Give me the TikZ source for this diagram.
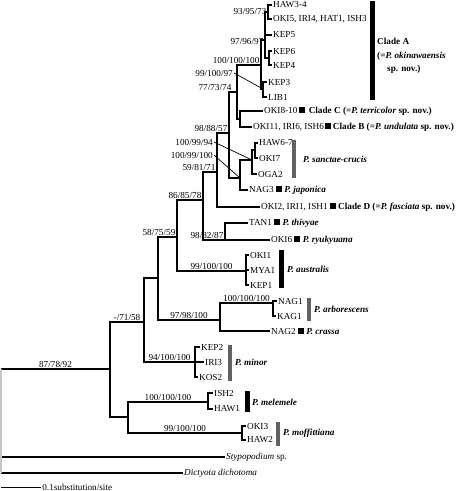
\documentclass[tikz,border=0pt]{standalone}
\usepackage{fontspec}
\setmainfont{Liberation Serif}
\definecolor{bargray}{gray}{0.38}
\newcommand{\sqbox}{\rule[0.05em]{6pt}{6pt}}
\newcommand{\spn}[1]{\textbf{\textit{#1}}}
\begin{document}
\begin{tikzpicture}[
    x=1pt, y=-1pt,
    every node/.style={font=\fontsize{9.2}{13.5}\selectfont},
    branch/.style={line width=1.3pt},
    leaf/.style={anchor=west, inner xsep=1pt, inner ysep=0pt},
    supp/.style={above, inner sep=1pt},
    suppl/.style={anchor=south east, inner sep=1pt},
    blackbar/.style={line width=5pt},
    graybar/.style={line width=4pt, bargray},
    pointer/.style={line width=0.7pt}
]
\useasboundingbox (0,0) rectangle (474,491);

% Inner nodes (x of node, y where its branch comes in)
\coordinate (base) at (1,369);
\coordinate (n87) at (110,369);
\coordinate (n71) at (144,322);
\coordinate (n0) at (158,278);
\coordinate (n58) at (177,237);
\coordinate (n86) at (203,200);
\coordinate (n59) at (217,172);
\coordinate (n98) at (229,133);
\coordinate (n77) at (237,92);
\coordinate (nA) at (261,65);
\coordinate (nA1) at (265,40);
\coordinate (nA2) at (268,12);
\coordinate (nA3) at (269,58);
\coordinate (nA4) at (263,89);
\coordinate (nCB) at (240,119);
\coordinate (nJ) at (240,178);
\coordinate (nS) at (252,160);
\coordinate (nS1) at (255,150);
\coordinate (nT) at (225,240);
\coordinate (nAu) at (246,271);
\coordinate (nAr) at (220,320);
\coordinate (nAr1) at (273,303);
\coordinate (nMi) at (195,362);
\coordinate (nMM) at (128,417);
\coordinate (nMe) at (208,402);
\coordinate (nMo) at (242,433);

% Leaves
\node[leaf] (haw34) at (272,5) {HAW3-4};
\node[leaf] (oki5) at (272,19) {OKI5, IRI4, HAT1, ISH3};
\node[leaf] (kep5) at (272,35) {KEP5};
\node[leaf] (kep6) at (272,51) {KEP6};
\node[leaf] (kep4) at (272,65) {KEP4};
\node[leaf] (kep3) at (267,82) {KEP3};
\node[leaf] (lib1) at (267,97) {LIB1};
\node[leaf] (oki810) at (263,111) {OKI8-10\,\sqbox\, \textbf{Clade C (=\spn{P. terricolor} sp. nov.)}};
\node[leaf] (oki11) at (252,127) {OKI11, IRI6, ISH6\,\sqbox\,\textbf{Clade B (=\spn{P. undulata} sp. nov.)}};
\node[leaf] (haw67) at (258,143) {HAW6-7};
\node[leaf] (oki7) at (258,158) {OKI7};
\node[leaf] (oga2) at (257,174) {OGA2};
\node[leaf] (nag3) at (248,190) {NAG3 \sqbox\ \spn{P. japonica}};
\node[leaf] (oki2) at (260,207) {OKI2, IRI1, ISH1 \sqbox\ \textbf{Clade D (=\spn{P. fasciata} sp. nov.)}};
\node[leaf] (tan1) at (248,223) {TAN1 \sqbox\ \spn{P. thivyae}};
\node[leaf] (oki6) at (270,240) {OKI6 \sqbox\ \spn{P. ryukyuana}};
\node[leaf] (oki1) at (249,255) {OKI1};
\node[leaf] (mya1) at (249,270) {MYA1};
\node[leaf] (kep1) at (249,285) {KEP1};
\node[leaf] (nag1) at (277,301) {NAG1};
\node[leaf] (kag1) at (276,316) {KAG1};
\node[leaf] (nag2) at (270,331) {NAG2 \sqbox\ \spn{P. crassa}};
\node[leaf] (kep2) at (200,347) {KEP2};
\node[leaf] (iri3) at (204,362) {IRI3};
\node[leaf] (kos2) at (198,377) {KOS2};
\node[leaf] (ish2) at (213,393) {ISH2};
\node[leaf] (haw1) at (213,409) {HAW1};
\node[leaf] (oki3) at (246,426) {OKI3};
\node[leaf] (haw2) at (246,440) {HAW2};
\node[leaf] (styp) at (225,457) {\textit{Stypopodium} sp.};
\node[leaf] (dicty) at (183,473) {\textit{Dictyota dichotoma}};

% Branches
\draw[branch] (base) -- node[supp] {87/78/92} (n87);
\draw[branch] (n87) |- node[supp, pos=0.75] {-/71/58} (n71);
\draw[branch] (n87) |- (nMM);
\draw[branch] (n71) |- (n0);
\draw[branch] (n71) |- node[supp, pos=0.75] {94/100/100} (nMi);
\draw[branch] (n0) |- (n58) node[suppl] {58/75/59};
\draw[branch] (n0) |- node[supp, pos=0.75] {97/98/100} (nAr);
\draw[branch] (n58) |- (n86) node[suppl] {86/85/78};
\draw[branch] (n58) |- node[supp, pos=0.75] {99/100/100} (nAu);
\draw[branch] (n86) |- (n59) node[suppl] {59/81/71};
\draw[branch] (n86) |- (nT) node[suppl] {98/82/87};
\draw[branch] (n59) |- (n98) node[suppl] {98/88/57};
\draw[branch] (n98) |- (n77) node[suppl, xshift=-4pt] {77/73/74};
\draw[branch] (n98) |- (nJ);
\draw[branch] (n77) |- (nA) node[suppl] {100/100/100};
\draw[branch] (n77) |- (nCB);
\draw[branch] (nA) |- (nA1) node[suppl, yshift=-6pt] {97/96/97};
\draw[branch] (nA) |- (nA4);
\draw[branch] (nA1) |- (nA2) node[suppl, yshift=-4pt] {93/95/73};
\draw[branch] (nA1) |- (nA3);
\draw[branch] (nJ) |- (nS);
\draw[branch] (nS) |- (nS1);
\draw[branch] (nAr) |- node[supp, pos=0.75] {100/100/100} (nAr1);
\draw[branch] (nMM) |- node[supp, pos=0.75] {100/100/100} (nMe);
\draw[branch] (nMM) |- node[supp, pos=0.75] {99/100/100} (nMo);
\foreach \p/\c in {nA2/haw34, nA2/oki5, nA1/kep5, nA3/kep6, nA3/kep4,
    nA4/kep3, nA4/lib1, nCB/oki810, nCB/oki11, nS1/haw67, nS1/oki7,
    nS/oga2, nJ/nag3, n59/oki2, nT/tan1, nT/oki6, nAu/oki1, nAu/mya1,
    nAu/kep1, nAr1/nag1, nAr1/kag1, nAr/nag2, nMi/kep2, nMi/iri3,
    nMi/kos2, nMe/ish2, nMe/haw1, nMo/oki3, nMo/haw2}
  \draw[branch] (\p) |- (\c.west);
\draw[branch] (base |- styp.west) -- (styp.west);
\draw[branch] (base |- dicty.west) -- (dicty.west);
\draw[branch, gray!45] (base) -- (base |- dicty.west);

% Support values with pointers
\node[anchor=east, inner sep=1pt] (p99) at (234,73) {99/100/97};
\node[anchor=east, inner sep=1pt] (p94) at (214,142) {100/99/94};
\node[anchor=east, inner sep=1pt] (p100) at (214,155) {100/99/100};
\draw[pointer] (p99.east) -- (nA4);
\draw[pointer] (p94.east) -- (nS);
\draw[pointer] (p100.east) -- (nJ);

% Species bars
\draw[blackbar] (372,1) -- (372,100);
\draw[graybar] (294,140) -- (294,178);
\draw[blackbar] (281,250) -- (281,288);
\draw[graybar] (309,298) -- (309,321);
\draw[graybar] (230,345) -- (230,381);
\draw[blackbar] (247,391) -- (247,412);
\draw[graybar] (278,422) -- (278,446);
\node[anchor=west, align=left, inner sep=0pt] (cladeA) at (377,56)
    {\textbf{Clade A}\\\textbf{(=\spn{P. okinawaensis}}\\\hspace{10pt}\textbf{sp. nov.)}};
\node[leaf] (sanct) at (302,159) {\spn{P. sanctae-crucis}};
\node[leaf] (austr) at (286,269) {\spn{P. australis}};
\node[leaf] (arbor) at (313,309) {\spn{P. arborescens}};
\node[leaf] (minor) at (234,362) {\spn{P. minor}};
\node[leaf] (melem) at (251,402) {\spn{P. melemele}};
\node[leaf] (moffi) at (282,433) {\spn{P. moffittiana}};

% Scale
\coordinate (sb0) at (1,487);
\coordinate (sb1) at (41,487);
\draw[line width=0.8pt] (sb0) -- (sb1) node[leaf] {0.1substitution/site};

\end{tikzpicture}
\end{document}
